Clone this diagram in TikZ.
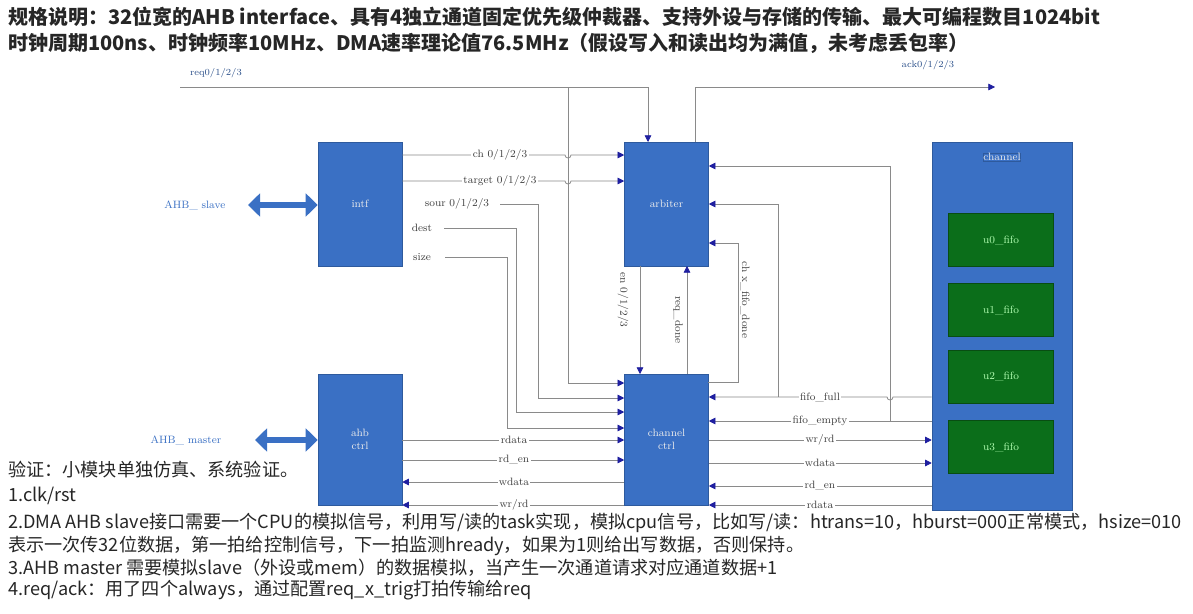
\documentclass[tikz,border=0pt]{standalone}
\usepackage{fontspec}
\newfontfamily\cjk{Noto Sans CJK SC}
\usetikzlibrary{arrows.meta}
\definecolor{boxblue}{HTML}{3A70C4}
\definecolor{fifogreen}{HTML}{0B6E1A}
\definecolor{tipblue}{HTML}{1F1FA0}
\definecolor{wire}{HTML}{8A8A8A}
\tikzset{x=0.75pt,y=-0.75pt,
 blk/.style={draw=boxblue!80!black,fill=boxblue,text=white!85!gray,font=\footnotesize,align=center,inner sep=0pt},
 fifo/.style={draw=fifogreen!70!black,fill=fifogreen,text=green!30!white,font=\footnotesize,inner sep=0pt},
 w/.style={draw=wire,line width=0.6pt},
 a/.style={w,-{Triangle[length=5pt,width=5pt,color=tipblue]}},
 lab/.style={font=\footnotesize,fill=white,inner sep=1pt,text=black!75},
 plab/.style={font=\footnotesize,text=black!75},
 blab/.style={font=\footnotesize,text=boxblue},
 big/.style={{Triangle[length=9pt,width=17pt]}-{Triangle[length=9pt,width=17pt]},draw=boxblue,line width=5pt},
 hdr/.style={font=\cjk\bfseries\fontsize{15}{17}\selectfont,anchor=west,inner sep=0pt,text=black!85},
 note/.style={font=\cjk\fontsize{13.6}{15}\selectfont,anchor=west,inner sep=0pt,text=black!85}}
\begin{document}
\begin{tikzpicture}
\useasboundingbox (0,0) rectangle (1193,614);
\fill[white] (0,0) rectangle (1193,614);
% blocks
\node[blk,minimum width=63pt,minimum height=93pt] (intf) at (360,204) {intf};
\node[blk,minimum width=63pt,minimum height=93pt] (arb) at (666.5,204) {arbiter};
\node[blk,minimum width=63pt,minimum height=98pt] (ahb) at (360,439.5) {ahb\\ctrl};
\node[blk,minimum width=63pt,minimum height=98pt] (cc) at (666.5,439.5) {channel\\ctrl};
\node[blk,minimum width=105pt,minimum height=276pt] (ch) at (1002,326) {};
\node[blk,anchor=north] at (1002,153) {channel};
\node[fifo,minimum width=79pt,minimum height=40pt] (f0) at (1001,240) {u0\_fifo};
\node[fifo,minimum width=79pt,minimum height=40pt] (f1) at (1001,310) {u1\_fifo};
\node[fifo,minimum width=79pt,minimum height=40pt] (f2) at (1001,376.5) {u2\_fifo};
\node[fifo,minimum width=79pt,minimum height=40pt] (f3) at (1001,447) {u3\_fifo};
% side interfaces
\node[blab,anchor=east] (sl) at (230,205) {AHB\_ slave};
\node[blab,anchor=east] (ms) at (226,440) {AHB\_ master};
\coordinate (sla) at (248,205); \coordinate (msa) at (255,440);
\draw[big] (sla) -- (intf.west|-sla);
\draw[big] (msa) -- (ahb.west|-msa);
% req / ack
\coordinate (rq0) at (180,87); \coordinate (rqj) at (568,87);
\node[font=\scriptsize,text=boxblue!70!black] at (216,73) {req0/1/2/3};
\draw[a] (rq0) -- (648,87) -- (648,142);
\draw[a] (rqj) -- (568,383) -- (cc.west|-0,383);
\node[font=\scriptsize,text=boxblue!70!black] at (928,65) {ack0/1/2/3};
\coordinate (ackend) at (995,87);
\draw[a] (695,142) -- (695,87) -- (ackend);
% intf -> arbiter with hops
\draw[a] (intf.east|-0,155) -- (565,155) arc (180:0:3) -- (arb.west|-0,155);
\node[lab] at (500,155) {ch 0/1/2/3};
\draw[a] (intf.east|-0,181) -- (565,181) arc (180:0:3) -- (arb.west|-0,181);
\node[lab] at (500,181) {target 0/1/2/3};
% sour/dest/size
\node[plab] (sour) at (457,204) {sour 0/1/2/3};
\node[plab] (dest) at (422,228) {dest};
\node[plab] (size) at (422,257) {size};
\draw[a] (500,204) -- (538,204) -- (538,398) -- (cc.west|-0,398);
\draw[a] (444,228) -- (516,228) -- (516,412) -- (cc.west|-0,412);
\draw[a] (445,257) -- (507,257) -- (507,428) -- (cc.west|-0,428);
% arbiter <-> channel ctrl
\draw[a] (640,266) -- (640,374);
\node[plab,rotate=-90] at (623,300) {en 0/1/2/3};
\draw[a] (687,374) -- (687,266);
\node[plab,rotate=-90] at (678,320) {req\_done};
\draw[a] (708,382) -- (738,382) -- (738,243) -- (arb.east|-0,243);
\node[plab,rotate=-90] at (745,300) {ch x\_fifo\_done};
% channel -> arbiter
\draw[a] (890,421) -- (890,166) -- (arb.east|-0,166);
\draw[a] (778,397) -- (778,204) -- (arb.east|-0,204);
% channel <-> channel ctrl
\draw[a] (ch.west|-0,397) -- (893,397) arc (0:180:3) -- (cc.east|-0,397);
\node[lab] at (820,397) {fifo\_full};
\draw[a] (ch.west|-0,421) -- (cc.east|-0,421);
\node[lab] at (820,421) {fifo\_empty};
\draw[a] (cc.east|-0,440) -- (ch.west|-0,440);
\node[lab] at (820,440) {wr/rd};
\draw[a] (cc.east|-0,463) -- (ch.west|-0,463);
\node[lab] at (820,463) {wdata};
\draw[a] (ch.west|-0,486) -- (cc.east|-0,486);
\node[lab] at (820,486) {rd\_en};
\draw[a] (ch.west|-0,505) -- (cc.east|-0,505);
\node[lab] at (820,505) {rdata};
% ahb ctrl <-> channel ctrl
\draw[a] (ahb.east|-0,440) -- (cc.west|-0,440);
\node[lab] at (514,440) {rdata};
\draw[a] (ahb.east|-0,460) -- (cc.west|-0,460);
\node[lab] at (514,460) {rd\_en};
\draw[a] (cc.west|-0,482) -- (ahb.east|-0,482);
\node[lab] at (514,482) {wdata};
\draw[a] (cc.west|-0,505) -- (ahb.east|-0,505);
\node[lab] at (514,505) {wr/rd};
% header text
\node[hdr] (h1) at (8,17) {规格说明：32位宽的AHB interface、具有4独立通道固定优先级仲裁器、支持外设与存储的传输、最大可编程数目1024bit};
\node[hdr] (h2) at (8,43) {时钟周期100ns、时钟频率10MHz、DMA速率理论值76.5MHz（假设写入和读出均为满值，未考虑丢包率）};
% notes
\node[note] (n1) at (8,470) {验证：小模块单独仿真、系统验证。};
\node[note] (n2) at (8,496) {1.clk/rst};
\node[note] (n3) at (8,523) {2.DMA AHB slave接口需要一个CPU的模拟信号，利用写/读的task实现，模拟cpu信号，比如写/读：htrans=10，hburst=000正常模式，hsize=010};
\node[note] (n4) at (8,546) {表示一次传32位数据，第一拍给控制信号，下一拍监测hready，如果为1则给出写数据，否则保持。};
\node[note] (n5) at (8,568) {3.AHB master 需要模拟slave（外设或mem）的数据模拟，当产生一次通道请求对应通道数据+1};
\node[note] (n6) at (8,590) {4.req/ack：用了四个always，通过配置req\_x\_trig打拍传输给req};
\end{tikzpicture}
\end{document}
